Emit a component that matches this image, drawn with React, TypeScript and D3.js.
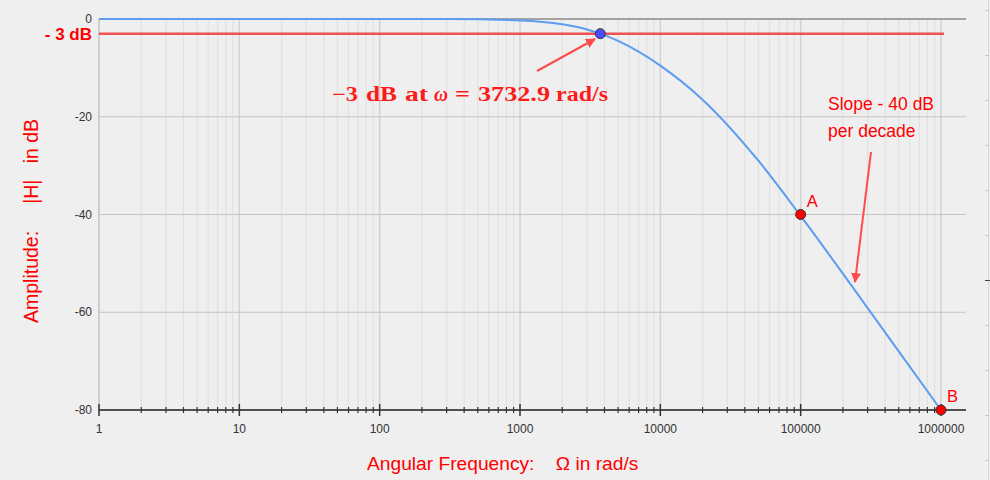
import React from 'react';
import * as d3 from 'd3';

// frequency response (rad/s, dB)
const freqs = [1, 10, 100, 300, 1000, 2000, 3000, 3732.9, 5000, 7000, 10000, 20000, 50000, 100000, 200000, 500000, 1000000];
const gainDb = [0, 0, 0, -0.01, -0.29, -1.08, -2.14, -3, -4.49, -6.69, -9.54, -16.5, -29.0, -40.3, -52.1, -68.0, -80.0];

const yTicks = [0, -20, -40, -60, -80];
const xDecades = [1, 10, 100, 1000, 10000, 100000, 1000000];

const markerFreqs = [3732.9, 100000, 1000000];
const markerDb = [-3, -40, -80];
const markerLabels = ['', 'A', 'B'];

const cutoffDb = -3;

// pieces of the math annotation: text, left x, width
const mathParts: [string, number, number, boolean][] = [
  ['−3', 332, 26, false],
  ['dB', 366, 31, false],
  ['at', 405, 23, false],
  ['ω', 434, 14, true],
  ['=', 455, 15, false],
  ['3732.9', 478, 72, false],
  ['rad/s', 556, 52, false],
];

const W = 990;
const H = 480;
const sans = "'Liberation Sans', Arial, sans-serif";
const serif = "'Liberation Serif', 'DejaVu Serif', serif";

export default function App() {
  const x = d3.scaleLog().domain([1, 1e6]).range([99, 941]);
  const y = d3.scaleLinear().domain([0, -80]).range([19, 410]);
  const xEnd = 966;

  const allTicks = x.ticks();
  const line = d3.line<number>()
    .x((d, i) => x(freqs[i]))
    .y(d => y(d))
    .curve(d3.curveMonotoneX);

  const rulerTicks = d3.range(10, H, 45);

  return (
    <svg width={W} height={H} style={{ position: 'absolute', left: 0, top: 0, display: 'block', background: '#efefef' }}>
      <defs>
        <marker id="arr" viewBox="0 0 10 10" refX="9" refY="5" markerWidth="5" markerHeight="5" orient="auto">
          <path d="M0,0 L10,5 L0,10 z" fill="#ff4b4b" />
        </marker>
      </defs>
      <rect width={W} height={H} fill="#efefef" />

      {/* vertical grid */}
      {allTicks.map(t => {
        const major = xDecades.includes(t);
        return (
          <line key={'vg' + t} x1={x(t)} x2={x(t)} y1={y(0)} y2={y(-80)}
            stroke={major ? '#d2d2d2' : '#e1e1e1'} strokeWidth={major ? 1.5 : 1.2} />
        );
      })}
      <line x1={x(1)} x2={x(1)} y1={y(0)} y2={y(-80)} stroke="#c8c8c8" strokeWidth={1.5} />

      {/* horizontal grid */}
      {yTicks.map(t => (
        <line key={'hg' + t} x1={x(1)} x2={xEnd} y1={y(t)} y2={y(t)}
          stroke={t === 0 ? '#8a8a8a' : '#c4c4c4'} strokeWidth={t === 0 ? 1.5 : 1} />
      ))}

      {/* y tick labels */}
      {yTicks.map(t => (
        <text key={'yl' + t} x={92} y={y(t) + 4} textAnchor="end" fontFamily={sans} fontSize={12} fill="#333">
          {String(t)}
        </text>
      ))}

      {/* x axis */}
      <line x1={x(1)} x2={xEnd} y1={y(-80)} y2={y(-80)} stroke="#222" strokeWidth={1.3} />
      {allTicks.map(t => {
        const major = xDecades.includes(t);
        return (
          <line key={'xt' + t} x1={x(t)} x2={x(t)} y1={y(-80) - (major ? 6 : 3)} y2={y(-80) + (major ? 6 : 3)}
            stroke="#333" strokeWidth={major ? 1.5 : 1.2} />
        );
      })}
      {xDecades.map(t => (
        <text key={'xl' + t} x={x(t)} y={y(-80) + 23} textAnchor="middle" fontFamily={sans} fontSize={12} fill="#333">
          {String(t)}
        </text>
      ))}

      {/* -3 dB line */}
      <line x1={x(1)} x2={944} y1={y(cutoffDb)} y2={y(cutoffDb)} stroke="#ee4a4a" strokeWidth={2.5} opacity={0.95} />
      <text x={92} y={y(cutoffDb) + 6} textAnchor="end" fontFamily={sans} fontSize={17} fontWeight="bold" fill="#ff0000">- 3 dB</text>

      {/* response curve */}
      <path d={line(gainDb) || ''} fill="none" stroke="#5d9cf0" strokeWidth={2} />

      {/* annotations */}
      <line x1={537} y1={71} x2={595} y2={39} stroke="#ff4b4b" strokeWidth={2} markerEnd="url(#arr)" />
      {mathParts.map(([s, px, w, it]) => (
        <text key={'mp' + px} x={px} y={101} fontFamily={serif} fontSize={20} fontWeight="bold"
          fontStyle={it ? 'italic' : 'normal'} fill="#ff1a1a" textLength={w} lengthAdjust="spacingAndGlyphs">
          {s}
        </text>
      ))}
      <line x1={871} y1={152} x2={855} y2={282} stroke="#ff4b4b" strokeWidth={2} markerEnd="url(#arr)" />
      <text x={828} y={110} fontFamily={sans} fontSize={17.5} fill="#ff0000">Slope - 40 dB</text>
      <text x={828} y={137} fontFamily={sans} fontSize={17.5} fill="#ff0000">per decade</text>

      {/* points */}
      {markerFreqs.map((f, i) => (
        <g key={'m' + i}>
          <circle cx={x(f)} cy={y(markerDb[i])} r={5}
            fill={i === 0 ? '#4a4aff' : '#ff0000'} stroke="#333" strokeWidth={1} />
          {markerLabels[i] && (
            <text x={x(f) + 6} y={y(markerDb[i]) - 8} fontFamily={sans} fontSize={16.5} fill="#ff0000">{markerLabels[i]}</text>
          )}
        </g>
      ))}

      {/* axis titles */}
      <text x={367} y={470} fontFamily={sans} fontSize={19.2} fill="#ff0000" style={{ whiteSpace: 'pre' }}>
        {'Angular Frequency:    Ω in rad/s'}
      </text>
      <text transform="translate(38,323) rotate(-90)" fontFamily={sans} fontSize={19.5} fill="#ff0000" style={{ whiteSpace: 'pre' }}>
        {'Amplitude:     |H|   in dB'}
      </text>

      {/* right edge ruler */}
      <line x1={988.5} x2={988.5} y1={0} y2={H} stroke="#d8d8d8" />
      {rulerTicks.map(t => (
        <line key={'r' + t} x1={985} x2={989} y1={t + 0.5} y2={t + 0.5} stroke="#c8c8c8" />
      ))}
      <line x1={985} x2={990} y1={280.5} y2={280.5} stroke="#444" />
    </svg>
  );
}
